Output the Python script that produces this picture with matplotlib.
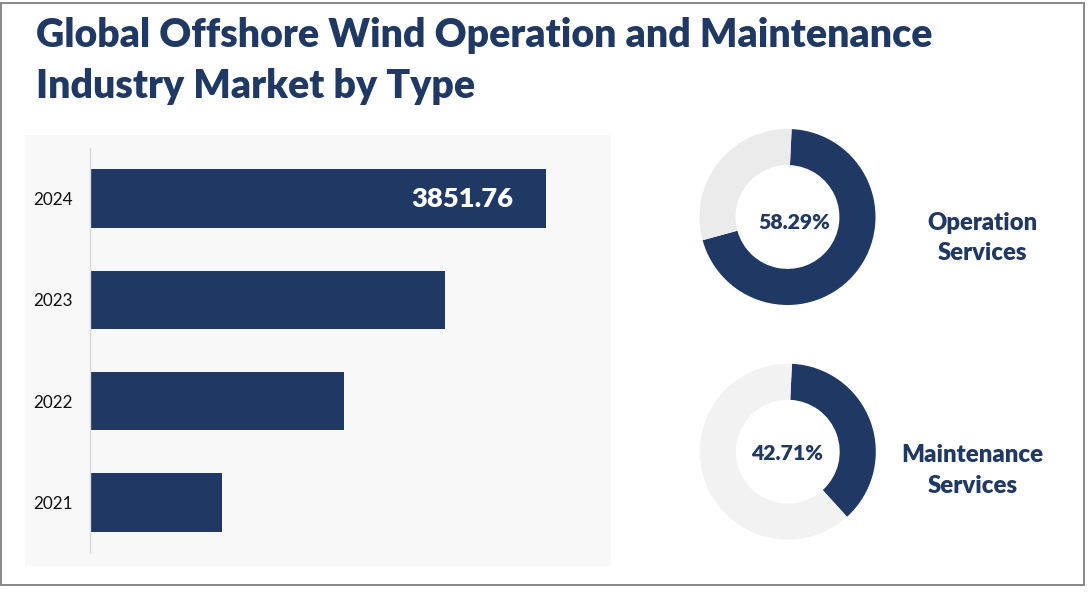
import matplotlib
matplotlib.use("Agg")
import matplotlib.pyplot as plt
from matplotlib.patches import Rectangle

# ---------------- data ----------------
years = ["2021", "2022", "2023", "2024"]
market_values = [1115, 2145, 2999, 3851.76]
value_label = "3851.76"

segments = ["Operation\nServices", "Maintenance\nServices"]
segment_labels = ["58.29%", "42.71%"]
ring_values = [[70.0, 30.0], [37.5, 62.5]]   # dark share as drawn, remainder

title_lines = ["Global Offshore Wind Operation and Maintenance", "Industry Market by Type"]

# ---------------- style ----------------
W, H = 1089, 597
DARK = "#1F3864"
FONT = "Lato"
HEAVY = 800
fig = plt.figure(figsize=(W / 100, H / 100), dpi=100)
fig.patch.set_facecolor("white")


def fx(x):
    return x / W


def fy(y):
    return 1 - y / H


renderer = fig.canvas.get_renderer()


def fit(txt, width_px):
    bb = txt.get_window_extent(renderer=renderer)
    txt.set_fontsize(txt.get_fontsize() * width_px / bb.width)


# border
fig.add_artist(Rectangle((fx(1), fy(585)), fx(1083), 582 / H, transform=fig.transFigure,
                         fill=False, edgecolor="#7f7f7f", linewidth=1.3))

# title
t1 = fig.text(fx(36), fy(47), title_lines[0], fontsize=27, fontweight=HEAVY, color=DARK,
              family=FONT, va="baseline", ha="left")
fit(t1, 897)
t2 = fig.text(fx(36), fy(98), title_lines[1], fontsize=t1.get_fontsize(), fontweight=HEAVY,
              color=DARK, family=FONT, va="baseline", ha="left")

# bar panel background
fig.add_artist(Rectangle((fx(25), fy(566)), fx(586), 431 / H, transform=fig.transFigure,
                         facecolor="#f8f8f8", edgecolor="none", zorder=0))

ax = fig.add_axes([fx(90), fy(553), fx(510), 405 / H])
ax.set_facecolor("none")
ax.barh(range(len(years)), market_values, height=0.58, color=DARK)
ax.set_ylim(-0.5, len(years) - 0.5)
ax.set_xlim(0, market_values[-1] * 510 / 456)
ax.set_yticks(range(len(years)))
ax.set_yticklabels(years, family=FONT, fontsize=12.3, color="#111111")
ax.tick_params(axis="y", length=0, pad=12.5)
ax.set_xticks([])
for s in ["top", "right", "bottom"]:
    ax.spines[s].set_visible(False)
ax.spines["left"].set_color("#d9d9d9")
ax.spines["left"].set_linewidth(1)
vt = ax.text(market_values[-1] - 33 * (ax.get_xlim()[1] / 510), len(years) - 1, value_label,
             ha="right", va="center", color="white", fontsize=19, fontweight=HEAVY, family=FONT)
fit(vt, 102)

# donuts
centers = [(787.5, 217), (787.8, 451.7)]
light_cols = ["#ebebeb", "#f2f2f2"]
label_pos = [(794, 222), (787, 453)]
side_pos = [(982.5, 230, 260), (972.5, 461.7, 492.7)]
side_widths = [(110, 89), (142, 88)]
R = 88
for i in range(2):
    cx, cy = centers[i]
    dax = fig.add_axes([fx(cx - R), fy(cy + R), fx(2 * R), 2 * R / H])
    dax.pie(ring_values[i], colors=[DARK, light_cols[i]], startangle=87.3, counterclock=False,
            radius=1, wedgeprops=dict(width=0.41, edgecolor="none"))
    dax.set_xlim(-1, 1)
    dax.set_ylim(-1, 1)
    dax.set_aspect("auto")
    dax.axis("off")
    lx, ly = label_pos[i]
    lt = fig.text(fx(lx), fy(ly), segment_labels[i], ha="center", va="center", color=DARK,
                  fontsize=15.5, fontweight=HEAVY, family=FONT)
    fit(lt, 72)
    sx, b1, b2 = side_pos[i]
    l1, l2 = segments[i].split("\n")
    s1 = fig.text(fx(sx), fy(b1), l1, ha="center", va="baseline", color=DARK,
                  fontsize=16.5, fontweight=HEAVY, family=FONT)
    fit(s1, side_widths[i][0])
    fig.text(fx(sx), fy(b2), l2, ha="center", va="baseline", color=DARK,
             fontsize=s1.get_fontsize(), fontweight=HEAVY, family=FONT)

fig.savefig("out.png", dpi=100, facecolor="white")
